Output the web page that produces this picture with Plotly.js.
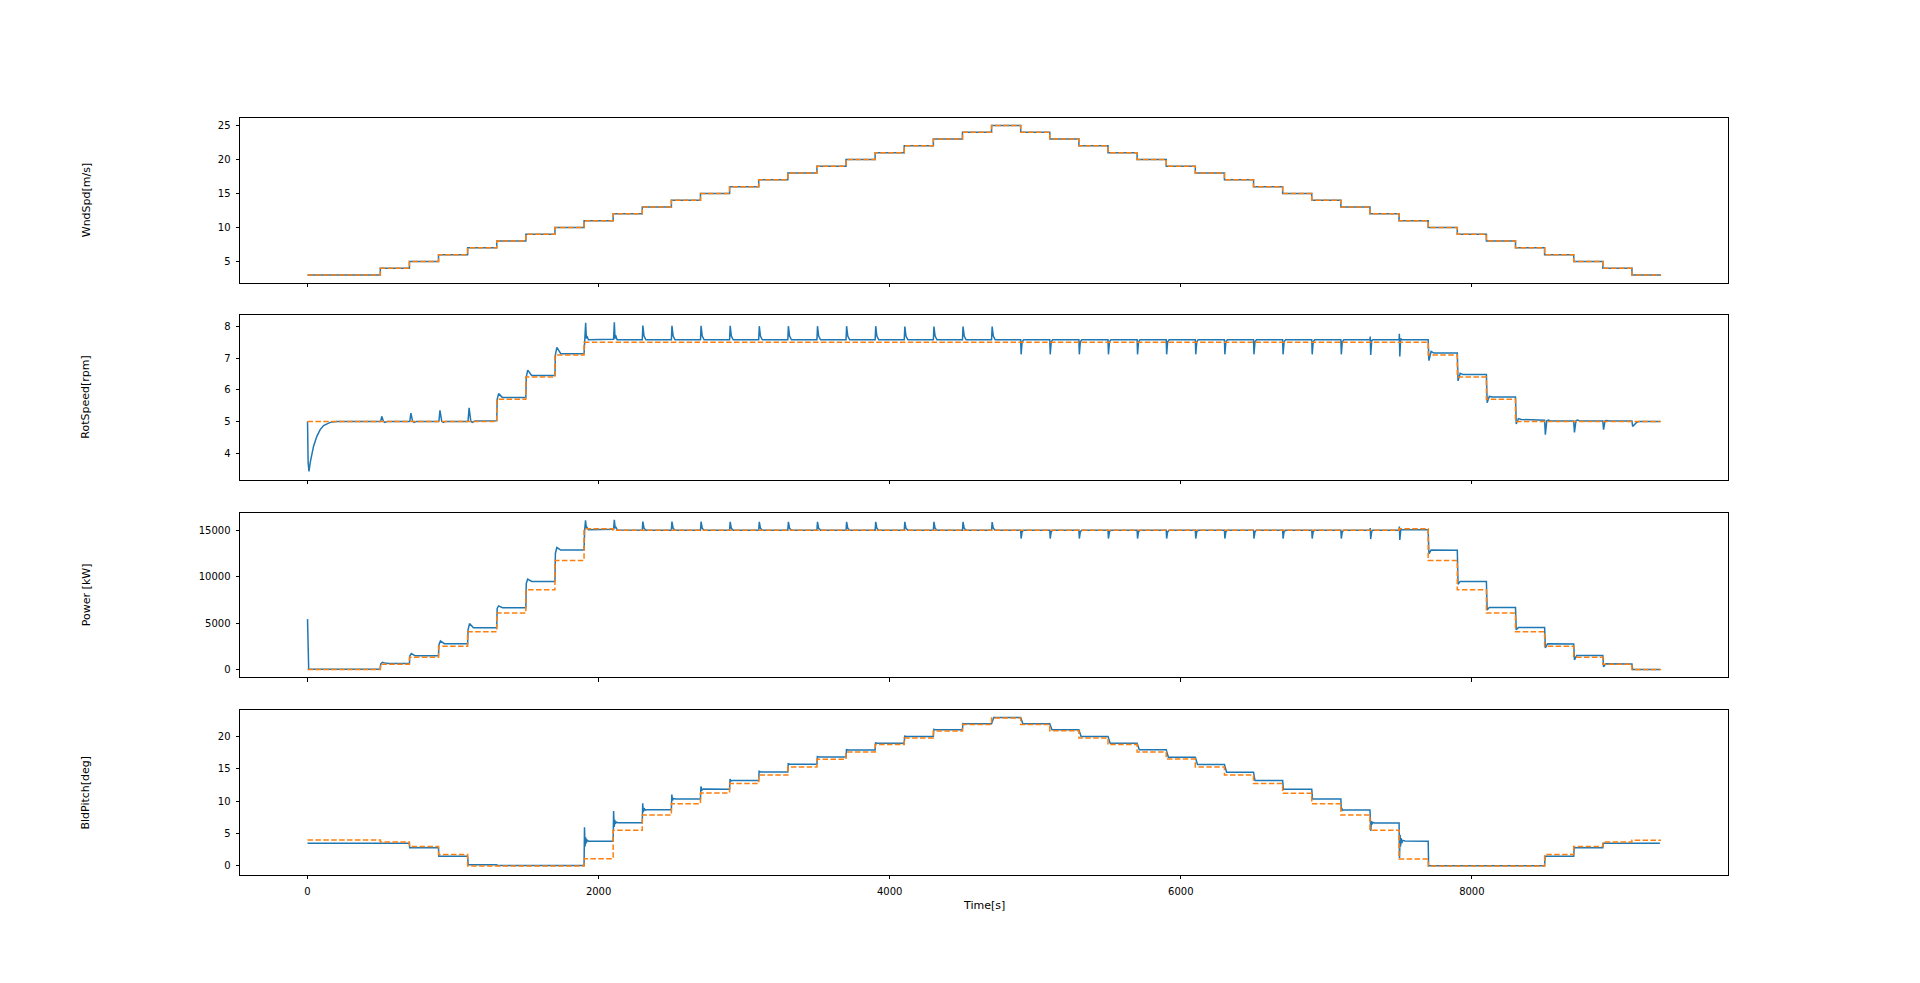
<!DOCTYPE html>
<html>
<head>
<meta charset="utf-8">
<script src="https://cdn.plot.ly/plotly-3.0.1.min.js"></script>
<style>
html,body{margin:0;padding:0;background:#fff;}
#chart{width:1920px;height:983px;}
</style>
</head>
<body>
<div id="chart"></div>
<script>
// ---- Data ----
// start times of the wind steps [s]
const stepTimes = [0,500,700,900,1100,1300,1500,1700,1900,2100,2300,2500,2700,2900,3100,3300,3500,3700,3900,4100,4300,4500,4700,4900,5100,5300,5500,5700,5900,6100,6300,6500,6700,6900,7100,7300,7500,7700,7900,8100,8300,8500,8700,8900,9100];
const endTime = 9300;

// wind speed per step [m/s]
const windLevels = [3,4,5,6,7,8,9,10,11,12,13,14,15,16,17,18,19,20,21,22,23,24,25,24,23,22,21,20,19,18,17,16,15,14,13,12,11,10,9,8,7,6,5,4,3];

// reference (dashed) rotor speed per step [rpm]
const rotRefLevels = [5,5,5,5,5,5.7,6.4,7.1,7.5,7.5,7.5,7.5,7.5,7.5,7.5,7.5,7.5,7.5,7.5,7.5,7.5,7.5,7.5,7.5,7.5,7.5,7.5,7.5,7.5,7.5,7.5,7.5,7.5,7.5,7.5,7.5,7.5,7.1,6.4,5.7,5,5,5,5,5];

// reference (dashed) power per step [kW]
const powRefLevels = [50,600,1350,2550,4100,6100,8600,11750,15150,15000,15000,15000,15000,15000,15000,15000,15000,15000,15000,15000,15000,15000,15000,15000,15000,15000,15000,15000,15000,15000,15000,15000,15000,15000,15000,15000,15150,11750,8600,6100,4100,2550,1350,600,50];

// reference (dashed) blade pitch per step [deg]
const pitchRefLevels = [4.0,3.7,3.0,1.75,0,0,0,0,1.1,5.5,7.85,9.6,11.25,12.7,14.0,15.25,16.45,17.55,18.7,19.7,20.8,21.8,22.8,21.8,20.85,19.72,18.7,17.55,16.48,15.25,14.02,12.7,11.2,9.6,7.87,5.5,1.08,0,0,0,0,1.75,3.0,3.7,3.96];

// simulated rotor speed [t, rpm]
const rotSpeedPts = [
 [0,5.0],[4,3.7],[10,3.42],[18,3.69],[41,4.21],[64,4.53],[87,4.74],[110,4.87],[156,4.97],[202,5.0],
 [500,5.0],[503,5.01],[510,5.16],[522,5.0],[532,4.97],[550,5.0],
 [700,5.0],[703,5.01],[710,5.26],[722,5.0],[732,4.97],[750,5.0],
 [900,5.0],[903,5.01],[910,5.35],[922,5.0],[932,4.97],[950,5.0],
 [1100,5.0],[1103,5.01],[1110,5.43],[1122,5.0],[1132,4.97],[1150,5.01],
 [1300,5.02],[1303,5.7],[1313,5.88],[1338,5.76],
 [1500,5.76],[1503,6.4],[1513,6.62],[1540,6.45],
 [1700,6.45],[1703,7.1],[1713,7.34],[1740,7.14],
 [1900,7.14],[1905,7.5],[1911,8.12],[1916,7.62],[1920,7.7],[1930,7.58],
 [2100,7.58],[2103,7.6],[2108,8.13],[2113,7.62],[2117,7.72],[2127,7.58],
 [2300,7.58],[2304,8.03],[2312,7.7],[2325,7.58],
 [2500,7.58],[2504,8.02],[2512,7.7],[2525,7.58],
 [2700,7.58],[2704,8.02],[2712,7.7],[2725,7.58],
 [2900,7.58],[2904,8.02],[2912,7.7],[2925,7.58],
 [3100,7.58],[3104,8.01],[3112,7.7],[3125,7.58],
 [3300,7.58],[3304,8.01],[3312,7.7],[3325,7.58],
 [3500,7.58],[3504,8.01],[3512,7.7],[3525,7.58],
 [3700,7.58],[3704,8.01],[3712,7.7],[3725,7.58],
 [3900,7.58],[3904,8.01],[3912,7.7],[3925,7.58],
 [4100,7.58],[4104,8.0],[4112,7.7],[4125,7.58],
 [4300,7.58],[4304,8.0],[4312,7.7],[4325,7.58],
 [4500,7.58],[4504,8.0],[4512,7.7],[4525,7.58],
 [4700,7.58],[4704,8.0],[4712,7.7],[4725,7.58],
 [4900,7.58],[4903,7.12],[4910,7.52],[4920,7.58],
 [5100,7.58],[5103,7.12],[5110,7.52],[5120,7.58],
 [5300,7.58],[5303,7.12],[5310,7.52],[5320,7.58],
 [5500,7.58],[5503,7.12],[5510,7.52],[5520,7.58],
 [5700,7.58],[5703,7.12],[5710,7.52],[5720,7.58],
 [5900,7.58],[5903,7.12],[5910,7.52],[5920,7.58],
 [6100,7.58],[6103,7.12],[6110,7.52],[6120,7.58],
 [6300,7.58],[6303,7.12],[6310,7.52],[6320,7.58],
 [6500,7.58],[6503,7.12],[6510,7.52],[6520,7.58],
 [6700,7.58],[6703,7.12],[6710,7.52],[6720,7.58],
 [6900,7.58],[6903,7.12],[6910,7.52],[6920,7.58],
 [7100,7.58],[7103,7.12],[7110,7.52],[7120,7.58],
 [7300,7.58],[7302,7.68],[7305,7.1],[7312,7.55],[7320,7.58],
 [7500,7.58],[7502,7.77],[7505,7.05],[7511,7.62],[7520,7.58],
 [7700,7.58],[7705,6.92],[7720,7.21],[7740,7.16],
 [7900,7.16],[7905,6.28],[7920,6.52],[7940,6.48],
 [8100,6.48],[8105,5.59],[8120,5.79],[8140,5.77],
 [8300,5.77],[8305,4.92],[8320,5.09],[8340,5.06],
 [8500,5.04],[8505,4.58],[8515,5.02],[8525,5.04],[8545,5.01],
 [8700,5.01],[8705,4.65],[8715,5.02],[8725,5.04],[8745,5.01],
 [8900,5.01],[8905,4.74],[8915,5.02],[8925,5.03],[8945,5.01],
 [9100,5.01],[9105,4.84],[9130,4.96],[9150,5.0],[9292,5.0]
];

// simulated power [t, kW]
const powerPts = [
 [0,5450],[8,60],[500,60],[503,650],[515,820],[540,700],[560,690],
 [700,690],[703,1500],[713,1750],[740,1510],
 [900,1510],[903,2700],[913,3110],[940,2810],
 [1100,2810],[1103,4300],[1113,4970],[1140,4520],
 [1300,4520],[1303,6600],[1313,6870],[1340,6670],
 [1500,6670],[1503,9300],[1513,9740],[1540,9500],
 [1700,9500],[1703,12500],[1713,13140],[1740,12860],
 [1900,12860],[1904,15000],[1910,16070],[1916,15200],[1920,15300],[1930,15050],
 [2100,15050],[2103,15100],[2108,16110],[2114,15200],[2118,15350],[2128,15020],
 [2300,15000],[2304,15930],[2312,15200],[2325,15000],
 [2500,15000],[2504,15920],[2512,15200],[2525,15000],
 [2700,15000],[2704,15910],[2712,15200],[2725,15000],
 [2900,15000],[2904,15900],[2912,15200],[2925,15000],
 [3100,15000],[3104,15900],[3112,15200],[3125,15000],
 [3300,15000],[3304,15900],[3312,15200],[3325,15000],
 [3500,15000],[3504,15900],[3512,15200],[3525,15000],
 [3700,15000],[3704,15900],[3712,15200],[3725,15000],
 [3900,15000],[3904,15890],[3912,15200],[3925,15000],
 [4100,15000],[4104,15890],[4112,15200],[4125,15000],
 [4300,15000],[4304,15900],[4312,15200],[4325,15000],
 [4500,15000],[4504,15890],[4512,15200],[4525,15000],
 [4700,15000],[4704,15870],[4712,15200],[4725,15000],
 [4900,15000],[4903,14100],[4910,14850],[4920,15000],
 [5100,15000],[5103,14100],[5110,14850],[5120,15000],
 [5300,15000],[5303,14100],[5310,14850],[5320,15000],
 [5500,15000],[5503,14100],[5510,14850],[5520,15000],
 [5700,15000],[5703,14100],[5710,14850],[5720,15000],
 [5900,15000],[5903,14100],[5910,14850],[5920,15000],
 [6100,15000],[6103,14100],[6110,14850],[6120,15000],
 [6300,15000],[6303,14100],[6310,14850],[6320,15000],
 [6500,15000],[6503,14100],[6510,14850],[6520,15000],
 [6700,15000],[6703,14100],[6710,14850],[6720,15000],
 [6900,15000],[6903,14100],[6910,14850],[6920,15000],
 [7100,15000],[7103,14100],[7110,14850],[7120,15000],
 [7300,15000],[7302,15220],[7305,14050],[7312,14900],[7320,15000],
 [7500,15000],[7502,15400],[7505,13960],[7512,15100],[7520,15040],
 [7700,15050],[7705,12460],[7720,12860],
 [7900,12850],[7905,9200],[7920,9500],
 [8100,9490],[8105,6440],[8120,6700],
 [8300,6690],[8305,4300],[8320,4550],
 [8500,4540],[8505,2360],[8520,2800],
 [8700,2790],[8705,1070],[8720,1540],
 [8900,1530],[8905,320],[8920,650],
 [9100,640],[9105,50],[9292,50]
];

// simulated blade pitch [t, deg]
const pitchPts = [
 [0,3.5],[700,3.5],[702,2.82],[900,2.82],[902,1.5],[1100,1.5],[1104,0.2],[1300,0.2],[1302,0.08],[1900,0.08],
 [1903,5.97],[1907,3.0],[1911,4.4],[1915,3.5],[1920,4.0],[1930,3.82],[2100,3.8],
 [2103,8.45],[2107,6.0],[2111,7.1],[2115,6.5],[2122,6.75],[2135,6.66],[2300,6.65],
 [2303,9.67],[2307,8.3],[2312,8.9],[2320,8.6],[2330,8.66],[2500,8.65],
 [2503,11.0],[2508,10.1],[2515,10.4],[2530,10.33],[2700,10.33],
 [2703,12.25],[2710,11.7],[2720,11.85],[2900,11.83],
 [2903,13.4],[2910,13.1],[2920,13.16],[3100,13.16],
 [3103,14.6],[3115,14.47],[3300,14.47],
 [3303,15.75],[3315,15.66],[3500,15.66],
 [3503,16.85],[3515,16.78],[3700,16.78],
 [3703,17.92],[3715,17.86],[3900,17.86],
 [3903,18.96],[3915,18.92],[4100,18.92],
 [4103,20.0],[4115,19.95],[4300,19.95],
 [4303,21.05],[4315,21.0],[4500,21.0],
 [4503,21.93],[4515,21.9],[4700,21.9],
 [4715,22.87],[4900,22.87],
 [4915,21.9],[5100,21.9],
 [5115,20.98],[5300,20.98],
 [5315,19.95],[5500,19.95],
 [5515,18.92],[5700,18.92],
 [5715,17.89],[5900,17.89],
 [5915,16.76],[6100,16.76],
 [6115,15.63],[6300,15.63],
 [6315,14.45],[6500,14.45],
 [6510,13.16],[6700,13.16],
 [6705,11.83],[6900,11.83],
 [6905,10.33],[7100,10.33],
 [7103,8.64],[7106,8.95],[7110,8.55],[7120,8.64],[7300,8.64],
 [7303,6.0],[7306,5.4],[7309,6.9],[7313,6.4],[7320,6.7],[7330,6.63],[7500,6.63],
 [7503,1.2],[7507,4.8],[7510,3.0],[7514,4.3],[7518,3.5],[7525,3.95],[7540,3.85],[7700,3.82],
 [7703,0.05],[8500,0.05],
 [8503,1.5],[8700,1.5],
 [8703,2.82],[8900,2.82],
 [8903,3.5],[9292,3.5]
];

const yLabels = ['WndSpd[m/s]','RotSpeed[rpm]','Power [kW]','BldPitch[deg]'];
const xLabel = 'Time[s]';
const xTicks = [0,2000,4000,6000,8000];

// ---- Build traces ----
const BLUE = '#1f77b4', ORANGE = '#ff7f0e';
const stepX = stepTimes.concat([endTime]);
function stepY(levels){ return levels.concat([levels[levels.length-1]]); }
function solidStep(levels, xa, ya){
  return {x:stepX, y:stepY(levels), xaxis:xa, yaxis:ya, mode:'lines', line:{color:BLUE,width:1.5,shape:'hv'}, hoverinfo:'skip'};
}
function dashStep(levels, xa, ya){
  return {x:stepX, y:stepY(levels), xaxis:xa, yaxis:ya, mode:'lines', line:{color:ORANGE,width:1.5,shape:'hv',dash:'5.5px,2.4px'}, hoverinfo:'skip'};
}
function solidPts(pts, xa, ya){
  return {x:pts.map(p=>p[0]), y:pts.map(p=>p[1]), xaxis:xa, yaxis:ya, mode:'lines', line:{color:BLUE,width:1.5}, hoverinfo:'skip'};
}

const traces = [
  solidStep(windLevels,'x','y'),
  dashStep(windLevels,'x','y'),
  solidPts(rotSpeedPts,'x2','y2'),
  dashStep(rotRefLevels,'x2','y2'),
  solidPts(powerPts,'x3','y3'),
  dashStep(powRefLevels,'x3','y3'),
  solidPts(pitchPts,'x4','y4'),
  dashStep(pitchRefLevels,'x4','y4')
];

const FONT = 'DejaVu Sans, Liberation Sans, sans-serif';
const common = {showline:true, mirror:true, linecolor:'#000', linewidth:1, ticks:'outside', ticklen:3.5, tickwidth:1, tickcolor:'#000', showgrid:false, zeroline:false, tickfont:{family:FONT,size:10,color:'#000'}, fixedrange:true};
const xRange = [-464, 9760];
const domains = [[0.71261,0.88],[0.51174,0.67913],[0.31087,0.47826],[0.11,0.27739]];
function xa(anchor, labels){ return Object.assign({}, common, {domain:[0.125,0.9], range:xRange, anchor:anchor, tickvals:xTicks, showticklabels:labels, ticklabelstandoff:4}); }
function ya(i, range, ticks, fmt){ const o = Object.assign({}, common, {domain:domains[i], range:range, anchor:i===0?'x':'x'+(i+1), tickvals:ticks, ticklabelstandoff:3}); if(fmt) o.tickformat=fmt; return o; }

const annotations = yLabels.map((t,i)=>({text:t, xref:'paper', yref:'paper', x:86/1920, y:(domains[i][0]+domains[i][1])/2, xanchor:'center', yanchor:'middle', textangle:-90, showarrow:false, font:{family:FONT,size:11,color:'#000'}}));
annotations.push({text:xLabel, xref:'paper', yref:'paper', x:0.5125, y:1-905/983, xanchor:'center', yanchor:'middle', showarrow:false, font:{family:FONT,size:11,color:'#000'}});

const layout = {
  width:1920, height:983, showlegend:false,
  paper_bgcolor:'#fff', plot_bgcolor:'#fff',
  margin:{l:0,r:0,t:0,b:0},
  font:{family:FONT,size:10,color:'#000'},
  xaxis: xa('y', false),
  xaxis2: xa('y2', false),
  xaxis3: xa('y3', false),
  xaxis4: xa('y4', true),
  yaxis: ya(0,[1.9,26.1],[5,10,15,20,25]),
  yaxis2: ya(1,[3.15,8.35],[4,5,6,7,8]),
  yaxis3: ya(2,[-810,16860],[0,5000,10000,15000],'d'),
  yaxis4: ya(3,[-1.37,23.98],[0,5,10,15,20]),
  annotations: annotations
};

Plotly.newPlot('chart', traces, layout, {displayModeBar:false, staticPlot:true});
</script>
</body>
</html>
